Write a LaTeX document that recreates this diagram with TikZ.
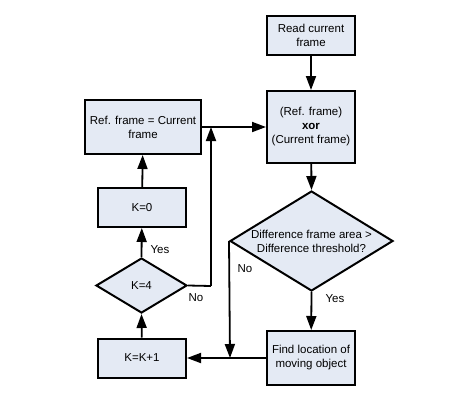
\documentclass[tikz,border=0pt]{standalone}
\usepackage{fontspec}
\setmainfont{Liberation Sans}
\usetikzlibrary{shapes.geometric,arrows.meta}
\definecolor{boxfill}{HTML}{E4EAF4}
\begin{document}
\begin{tikzpicture}[x=1pt,y=-1pt,
  every node/.style={font=\fontsize{11.5}{14}\selectfont},
  procbox/.style={draw=black,line width=2pt,fill=boxfill,align=center,inner sep=0pt},
  decbox/.style={diamond,draw=black,line width=2pt,fill=boxfill,inner sep=0pt},
  flow/.style={line width=1.8pt,-{Triangle[length=14pt,width=10pt]}},
  plain/.style={line width=1.8pt},
  lbl/.style={inner sep=0pt}]
\useasboundingbox (0,0) rectangle (474,408);
\node[procbox,minimum width=88pt,minimum height=39pt] (read) at (311,35.5) {Read current\\frame};
\node[procbox,minimum width=88pt,minimum height=72pt] (xor) at (311,127) {(Ref. frame)\\\textbf{xor}\\(Current frame)};
\node[procbox,minimum width=116pt,minimum height=54pt] (ref) at (143,127) {Ref. frame = Current\\frame};
\node[procbox,minimum width=88pt,minimum height=39pt] (k0) at (142,207.5) {K=0};
\node[decbox,minimum width=91pt,minimum height=55pt,label={center:K=4}] (k4) at (141.5,285.5) {};
\node[procbox,minimum width=88pt,minimum height=39pt] (kk) at (142,358) {K=K+1};
\node[decbox,minimum width=163pt,minimum height=100pt,label={[align=center]center:Difference frame area >\\Difference threshold?}] (diff) at (311.5,241) {};
\node[procbox,minimum width=88pt,minimum height=54pt] (find) at (311,358) {Find location of\\moving object};
\coordinate (nojoin) at (230,358);
\coordinate (k4turn) at (211,286);
\coordinate (k4up) at (211,127);
\draw[flow] (read) -- (xor);
\draw[flow] (xor) -- (diff.north);
\draw[flow] (diff.south) -- (find);
\draw[flow] (diff.west) -- (nojoin);
\draw[flow] (find) -- (kk);
\draw[flow] (kk) -- (k4.south);
\draw[flow] (k4.north) -- (k0);
\draw[flow] (k0) -- (ref);
\draw[flow] (ref) -- (xor);
\draw[plain] (k4.east) -- (k4turn);
\draw[flow] (k4turn) -- (k4up);
\node[lbl] (yes1) at (335,299) {Yes};
\node[lbl] (no1) at (245,269) {No};
\node[lbl] (yes2) at (160,250) {Yes};
\node[lbl] (no2) at (196,298) {No};
\end{tikzpicture}
\end{document}
